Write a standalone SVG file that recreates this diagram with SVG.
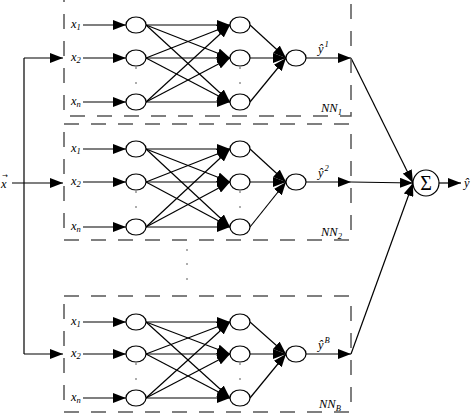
<svg xmlns="http://www.w3.org/2000/svg" width="474" height="413" viewBox="0 0 474 413">
<defs>
<marker id="ah" viewBox="0 0 13 10" refX="13" refY="5" markerWidth="13" markerHeight="10" markerUnits="userSpaceOnUse" orient="auto">
<path d="M0,0 L13,5 L0,10 z" fill="#000"/>
</marker>
</defs>
<style>
.ln{stroke:#000;stroke-width:1.2;fill:none}
.ar{stroke:#000;stroke-width:1.2;fill:none;marker-end:url(#ah)}
.nd{fill:#fff;stroke:#000;stroke-width:1.2}
.box{fill:none;stroke:#555;stroke-width:1.5;stroke-dasharray:15 12}
.m{font-family:"Liberation Serif",serif;font-style:italic;font-size:12.5px;fill:#000}
.s{font-size:8.5px}
.dot{fill:#444}
</style>
<rect width="474" height="413" fill="#fff"/>

<g id="connectors">
<line class="ar" x1="12" y1="183" x2="63" y2="183"/>
<line class="ln" x1="24" y1="58" x2="24" y2="354"/>
<line class="ar" x1="24" y1="58" x2="63" y2="58"/>
<line class="ar" x1="24" y1="354" x2="63" y2="354"/>
<line class="ar" x1="83" y1="25" x2="126" y2="25"/>
<line class="ar" x1="83" y1="58" x2="126" y2="58"/>
<line class="ar" x1="83" y1="102" x2="126" y2="102"/>
<line class="ar" x1="146" y1="25" x2="230" y2="25"/>
<line class="ar" x1="146" y1="25" x2="230" y2="58"/>
<line class="ar" x1="146" y1="25" x2="230" y2="102"/>
<line class="ar" x1="146" y1="58" x2="230" y2="25"/>
<line class="ar" x1="146" y1="58" x2="230" y2="58"/>
<line class="ar" x1="146" y1="58" x2="230" y2="102"/>
<line class="ar" x1="146" y1="102" x2="230" y2="25"/>
<line class="ar" x1="146" y1="102" x2="230" y2="58"/>
<line class="ar" x1="146" y1="102" x2="230" y2="102"/>
<line class="ar" x1="250" y1="25" x2="286" y2="58"/>
<line class="ar" x1="250" y1="58" x2="286" y2="58"/>
<line class="ar" x1="250" y1="102" x2="286" y2="58"/>
<line class="ar" x1="305" y1="58" x2="351" y2="58"/>
<line class="ar" x1="83" y1="149" x2="126" y2="149"/>
<line class="ar" x1="83" y1="182" x2="126" y2="182"/>
<line class="ar" x1="83" y1="227" x2="126" y2="227"/>
<line class="ar" x1="146" y1="149" x2="230" y2="149"/>
<line class="ar" x1="146" y1="149" x2="230" y2="182"/>
<line class="ar" x1="146" y1="149" x2="230" y2="227"/>
<line class="ar" x1="146" y1="182" x2="230" y2="149"/>
<line class="ar" x1="146" y1="182" x2="230" y2="182"/>
<line class="ar" x1="146" y1="182" x2="230" y2="227"/>
<line class="ar" x1="146" y1="227" x2="230" y2="149"/>
<line class="ar" x1="146" y1="227" x2="230" y2="182"/>
<line class="ar" x1="146" y1="227" x2="230" y2="227"/>
<line class="ar" x1="250" y1="149" x2="286" y2="182"/>
<line class="ar" x1="250" y1="182" x2="286" y2="182"/>
<line class="ar" x1="250" y1="227" x2="286" y2="182"/>
<line class="ar" x1="305" y1="182" x2="351" y2="182"/>
<line class="ar" x1="83" y1="322" x2="126" y2="322"/>
<line class="ar" x1="83" y1="354" x2="126" y2="354"/>
<line class="ar" x1="83" y1="398" x2="126" y2="398"/>
<line class="ar" x1="146" y1="322" x2="230" y2="322"/>
<line class="ar" x1="146" y1="322" x2="230" y2="354"/>
<line class="ar" x1="146" y1="322" x2="230" y2="398"/>
<line class="ar" x1="146" y1="354" x2="230" y2="322"/>
<line class="ar" x1="146" y1="354" x2="230" y2="354"/>
<line class="ar" x1="146" y1="354" x2="230" y2="398"/>
<line class="ar" x1="146" y1="398" x2="230" y2="322"/>
<line class="ar" x1="146" y1="398" x2="230" y2="354"/>
<line class="ar" x1="146" y1="398" x2="230" y2="398"/>
<line class="ar" x1="250" y1="322" x2="286" y2="354"/>
<line class="ar" x1="250" y1="354" x2="286" y2="354"/>
<line class="ar" x1="250" y1="398" x2="286" y2="354"/>
<line class="ar" x1="305" y1="354" x2="351" y2="354"/>
<line class="ar" x1="351" y1="58" x2="413" y2="183"/>
<line class="ar" x1="351" y1="182" x2="413" y2="183"/>
<line class="ar" x1="351" y1="354" x2="413" y2="183"/>
<line class="ar" x1="439" y1="183" x2="461" y2="183"/>
</g>

<g id="box1">
<rect class="box" x="64" y="-6" width="287" height="122"/>
<text class="m" x="71" y="28">x<tspan class="s" dy="2">1</tspan></text>
<text class="m" x="71" y="61">x<tspan class="s" dy="2">2</tspan></text>
<text class="m" x="71" y="105">x<tspan class="s" dy="2">n</tspan></text>
<ellipse class="nd" cx="136" cy="25" rx="10" ry="8"/>
<ellipse class="nd" cx="136" cy="58" rx="10" ry="8"/>
<ellipse class="nd" cx="136" cy="102" rx="10" ry="8"/>
<ellipse class="nd" cx="240" cy="25" rx="10" ry="8"/>
<ellipse class="nd" cx="240" cy="58" rx="10" ry="8"/>
<ellipse class="nd" cx="240" cy="102" rx="10" ry="8"/>
<ellipse class="nd" cx="296" cy="58" rx="10" ry="8"/>
<circle class="dot" cx="136" cy="68" r="0.8"/><circle class="dot" cx="136" cy="83" r="0.8"/>
<circle class="dot" cx="240" cy="68" r="0.8"/><circle class="dot" cx="240" cy="83" r="0.8"/>
<text class="m" x="318" y="53">ŷ<tspan class="s" dy="-6" dx="1">1</tspan></text>
<text class="m" x="321" y="112">NN<tspan class="s" dy="3">1</tspan></text>
</g>

<g id="box2">
<rect class="box" x="64" y="124" width="287" height="116"/>
<text class="m" x="71" y="152">x<tspan class="s" dy="2">1</tspan></text>
<text class="m" x="71" y="185">x<tspan class="s" dy="2">2</tspan></text>
<text class="m" x="71" y="230">x<tspan class="s" dy="2">n</tspan></text>
<ellipse class="nd" cx="136" cy="149" rx="10" ry="8"/>
<ellipse class="nd" cx="136" cy="182" rx="10" ry="8"/>
<ellipse class="nd" cx="136" cy="227" rx="10" ry="8"/>
<ellipse class="nd" cx="240" cy="149" rx="10" ry="8"/>
<ellipse class="nd" cx="240" cy="182" rx="10" ry="8"/>
<ellipse class="nd" cx="240" cy="227" rx="10" ry="8"/>
<ellipse class="nd" cx="296" cy="182" rx="10" ry="8"/>
<circle class="dot" cx="136" cy="192" r="0.8"/><circle class="dot" cx="136" cy="207" r="0.8"/>
<circle class="dot" cx="240" cy="192" r="0.8"/><circle class="dot" cx="240" cy="207" r="0.8"/>
<text class="m" x="318" y="177">ŷ<tspan class="s" dy="-6" dx="1">2</tspan></text>
<text class="m" x="321" y="236">NN<tspan class="s" dy="3">2</tspan></text>
</g>

<g id="gap-dots">
<circle class="dot" cx="187" cy="250" r="0.8"/>
<circle class="dot" cx="187" cy="264" r="0.8"/>
<circle class="dot" cx="187" cy="279" r="0.8"/>
</g>

<g id="box3">
<rect class="box" x="64" y="296" width="287" height="116"/>
<text class="m" x="71" y="325">x<tspan class="s" dy="2">1</tspan></text>
<text class="m" x="71" y="357">x<tspan class="s" dy="2">2</tspan></text>
<text class="m" x="71" y="401">x<tspan class="s" dy="2">n</tspan></text>
<ellipse class="nd" cx="136" cy="322" rx="10" ry="8"/>
<ellipse class="nd" cx="136" cy="354" rx="10" ry="8"/>
<ellipse class="nd" cx="136" cy="398" rx="10" ry="8"/>
<ellipse class="nd" cx="240" cy="322" rx="10" ry="8"/>
<ellipse class="nd" cx="240" cy="354" rx="10" ry="8"/>
<ellipse class="nd" cx="240" cy="398" rx="10" ry="8"/>
<ellipse class="nd" cx="296" cy="354" rx="10" ry="8"/>
<circle class="dot" cx="136" cy="364" r="0.8"/><circle class="dot" cx="136" cy="379" r="0.8"/>
<circle class="dot" cx="240" cy="364" r="0.8"/><circle class="dot" cx="240" cy="379" r="0.8"/>
<text class="m" x="318" y="349">ŷ<tspan class="s" dy="-6" dx="1">B</tspan></text>
<text class="m" x="319" y="408">NN<tspan class="s" dy="3">B</tspan></text>
</g>

<g id="input">
<text class="m" x="1" y="188">x</text>
<text x="2" y="178" style="font-family:'DejaVu Sans',sans-serif;font-size:7px">→</text>
</g>

<g id="sum">
<circle class="nd" cx="426" cy="183" r="13"/>
<text x="426" y="190" text-anchor="middle" style="font-family:'Liberation Serif',serif;font-size:20px">Σ</text>
</g>

<g id="output">
<text class="m" x="464" y="187">ŷ</text>
</g>
</svg>
